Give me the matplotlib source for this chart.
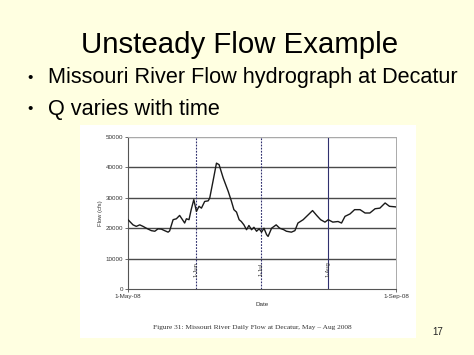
import matplotlib
matplotlib.use("Agg")
import matplotlib.pyplot as plt
from matplotlib.patches import Rectangle

# ---- data (days since 1-May-08, flow in cfs) ----
days = [0, 2.3, 3.8, 5.4, 6.9, 8.4, 10.7, 12.3, 13.8, 15.3, 16.8, 18.4, 19.1,
        20.7, 22.2, 23.7, 25.0, 26.0, 26.8, 28.0, 29.0, 30.2, 31.4, 32.6, 33.7,
        35.2, 36.8, 37.5, 39.0, 40.6, 41.8, 43.7, 46.0, 47.5, 48.6, 49.8, 51.0,
        52.0, 53.2, 54.4, 55.5, 56.7, 57.8, 59.0, 60.2, 61.3, 62.4, 63.6, 64.3,
        65.9, 68.0, 69.6, 71.5, 72.7, 75.0, 76.6, 78.0, 80.4, 82.7, 84.7, 86.6,
        88.4, 90.4, 91.9, 94.0, 96.4, 98.0, 99.6, 101.9, 104.0, 106.5, 108.8,
        111.0, 113.4, 115.6, 118.0, 120.0, 123.0]
flow = [22800, 21100, 20600, 21100, 20600, 20000, 19200, 19000, 19800, 19700,
        19200, 18700, 19100, 22800, 23100, 24200, 22800, 21700, 23100, 22800,
        26100, 29400, 25500, 27200, 26600, 28800, 29000, 29900, 35400, 41400,
        40900, 36500, 32100, 28800, 26100, 25300, 22800, 22200, 21100, 19500,
        20900, 19500, 20300, 19000, 19800, 18700, 20000, 17900, 17300, 20000,
        21100, 20000, 19500, 19000, 18700, 19200, 21700, 22800, 24400, 25800,
        24200, 22800, 22000, 22800, 22000, 22200, 21700, 23900, 24700, 26100,
        26100, 25000, 25000, 26400, 26600, 28300, 27200, 27000]
month_days = [31, 61, 92]
month_labels = ["1-Jun", "1-Jul", "1-Aug"]
month_styles = ["--", "--", "-"]
x_ticks = [0, 123]
x_ticklabels = ["1-May-08", "1-Sep-08"]
y_ticks = [0, 10000, 20000, 30000, 40000, 50000]

W, H = 474, 355
bg = "#FFFFE1"
fig = plt.figure(figsize=(W / 100, H / 100), dpi=100, facecolor=bg)

def fx(px):
    return px / W

def fy(py):
    return 1 - py / H

# white picture box
fig.patches.append(Rectangle((fx(80), fy(338)), fx(336), (338 - 125) / H,
                             transform=fig.transFigure, facecolor="white",
                             edgecolor="none", zorder=-5))

# slide text
fig.text(fx(240), fy(45), "Unsteady Flow Example", ha="center", va="center",
         fontsize=21.2, family="Liberation Sans", color="black")
fig.text(fx(30), fy(78), "\u2022", ha="center", va="center", fontsize=11,
         family="Liberation Sans")
fig.text(fx(48), fy(78), "Missouri River Flow hydrograph at Decatur",
         ha="left", va="center", fontsize=15.6, family="Liberation Sans")
fig.text(fx(30), fy(109), "\u2022", ha="center", va="center", fontsize=11,
         family="Liberation Sans")
fig.text(fx(48), fy(109), "Q varies with time",
         ha="left", va="center", fontsize=15.6, family="Liberation Sans")
fig.text(fx(438), fy(332), "17", ha="center", va="center", fontsize=7,
         family="Liberation Sans", color="#222222")

# chart axes
ax = fig.add_axes([fx(128), fy(289), (396 - 128) / W, (289 - 137) / H])
ax.set_zorder(2)
ax.set_facecolor("white")
ax.set_xlim(0, 123)
ax.set_ylim(0, 50000)
for y in y_ticks[1:]:
    ax.axhline(y, color="#4A4A4A" if y < 50000 else "#999999", lw=1.0, zorder=1)
for d, s in zip(month_days, month_styles):
    ax.axvline(d, color="#30306E", lw=0.8, ls=(0, (1.6, 1.2)) if s == "--" else "-",
               zorder=1)
ax.plot(days, flow, color="#1A1A1A", lw=1.0, zorder=3)
for d, lab in zip(month_days, month_labels):
    ax.text(d, 6500, lab, rotation=90, ha="center", va="center", fontsize=4.2,
            family="Liberation Sans", color="#333333", zorder=4)

ax.set_yticks(y_ticks)
ax.set_yticklabels([str(v) for v in y_ticks], fontsize=4.5, family="Liberation Sans",
                   color="#333333")
ax.set_xticks(x_ticks)
ax.set_xticklabels(x_ticklabels, fontsize=4.5, family="Liberation Sans",
                   color="#333333")
ax.tick_params(axis="both", length=2, width=0.6, color="#555555", pad=1.5)
for side in ["top", "right"]:
    ax.spines[side].set_color("#AAAAAA")
    ax.spines[side].set_linewidth(0.7)
for side in ["left", "bottom"]:
    ax.spines[side].set_color("#555555")
    ax.spines[side].set_linewidth(0.8)
ax.set_ylabel("Flow (cfs)", fontsize=4.2, family="Liberation Sans", color="#333333",
              labelpad=2)
ax.set_xlabel("Date", fontsize=4.5, family="Liberation Sans", color="#333333",
              labelpad=2)

fig.text(fx(252), fy(327),
         "Figure 31: Missouri River Daily Flow at Decatur, May \u2013 Aug 2008",
         ha="center", va="center", fontsize=5.3, family="Liberation Serif",
         color="#333333")

fig.savefig("out.png", dpi=100, facecolor=bg)
